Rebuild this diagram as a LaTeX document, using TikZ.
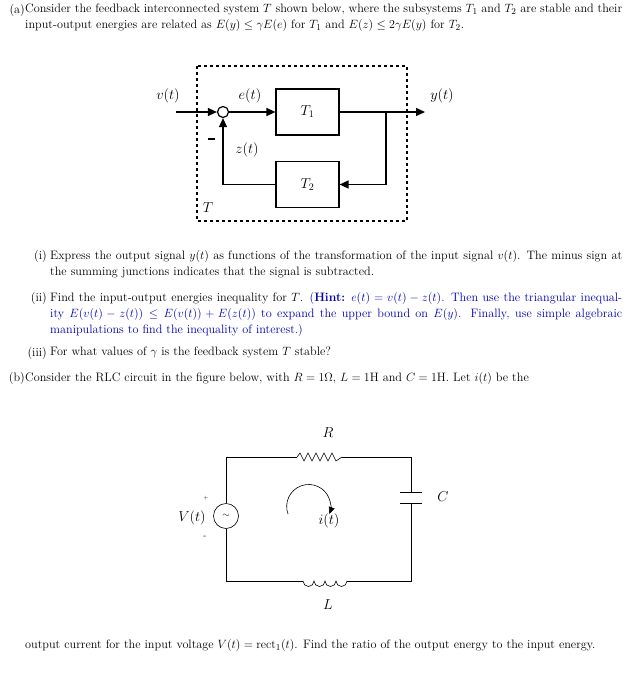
\documentclass[tikz,border=0pt]{standalone}
\usepackage{amsmath,amssymb}
\usetikzlibrary{arrows.meta}
\begin{document}
\begin{tikzpicture}[x=1pt,y=-1pt,
  txt/.style={anchor=north west,inner sep=0pt,align=justify,font=\fontsize{12.2}{16}\selectfont},
  lbl/.style={anchor=north east,inner sep=0pt,font=\fontsize{12.2}{16}\selectfont},
  blk/.style={draw,line width=1.2pt,minimum width=63pt,minimum height=46pt,inner sep=0pt,font=\Large},
  arr/.style={line width=1.4pt,-{Triangle[length=9pt,width=8pt]}},
  el/.style={line width=0.6pt},
  ml/.style={inner sep=1pt,font=\Large}]
\useasboundingbox (0,0) rectangle (641,700);
\fill[white] (0,0) rectangle (641,700);
% text
\node[lbl] (la) at (25,4) {(a)};
\node[txt,text width=597pt] (ta) at (25,4) {Consider the feedback interconnected system $T$ shown below, where the subsystems $T_1$ and $T_2$ are stable and their input-output energies are related as $E(y)\le\gamma E(e)$ for $T_1$ and $E(z)\le 2\gamma E(y)$ for $T_2$.};
\node[lbl] (li) at (47,250) {(i)};
\node[txt,text width=572pt] (ti) at (50,250) {Express the output signal $y(t)$ as functions of the transformation of the input signal $v(t)$. The minus sign at the summing junctions indicates that the signal is subtracted.};
\node[lbl] (lii) at (47,292) {(ii)};
\node[txt,text width=572pt] (tii) at (50,292) {Find the input-output energies inequality for $T$. \textcolor{blue!70!black}{(\textbf{Hint:} $e(t)=v(t)-z(t)$. Then use the triangular inequality $E(v(t)-z(t))\le E(v(t))+E(z(t))$ to expand the upper bound on $E(y)$. Finally, use simple algebraic manipulations to find the inequality of interest.)}};
\node[lbl] (liii) at (47,347) {(iii)};
\node[txt] (tiii) at (50,347) {For what values of $\gamma$ is the feedback system $T$ stable?};
\node[lbl] (lb) at (25,372) {(b)};
\node[txt,text width=597pt] (tb) at (25,372) {Consider the RLC circuit in the figure below, with $R=1\Omega$, $L=1$H and $C=1$H. Let $i(t)$ be the};
\node[txt,text width=597pt] (tc) at (25,639) {output current for the input voltage $V(t)=\mathrm{rect}_1(t)$. Find the ratio of the output energy to the input energy.};
% block diagram
\draw[dashed,line width=1.2pt] (197,66) rectangle (407,221);
\node[blk] (T1) at (307.5,112) {$T_1$};
\node[blk] (T2) at (307.5,184.5) {$T_2$};
\node[circle,draw,line width=1.2pt,minimum size=11pt,inner sep=0pt] (S) at (223,112) {};
\coordinate (in) at (176,112);
\coordinate (out) at (425,112);
\coordinate (br) at (386,112);
\draw[arr] (in) -- (S.west);
\draw[arr] (S.east) -- (T1.west);
\draw[arr] (T1.east) -- (out);
\draw[arr] (br) |- (T2.east);
\draw[arr] (T2.west) -| (S.south);
\node[ml] (v) at (168,96) {$v(t)$};
\node[ml] (e) at (250,96) {$e(t)$};
\node[ml] (y) at (442,96) {$y(t)$};
\node[ml] (z) at (247,150) {$z(t)$};
\node[ml] (Tl) at (208,208) {$T$};
\node[inner sep=0pt] (m) at (211,139) {\rule{7pt}{2.2pt}};
% circuit
\node[circle,draw,el,minimum size=25pt,inner sep=0pt] (src) at (226,516) {\small$\sim$};
\coordinate (r1) at (297,457); \coordinate (r2) at (342,457);
\coordinate (l1) at (303,581); \coordinate (l2) at (347,581);
\coordinate (c1) at (411,492); \coordinate (c2) at (411,503);
\draw[el] (src.north) |- (r1);
\draw[el] (r1) -- ++(3,-4) -- ++(4,8) -- ++(4,-8) -- ++(4,8) -- ++(4,-8) -- ++(4,8) -- ++(4,-8) -- ++(4,8) -- ++(4,-8) -- ++(4,8) -- (r2);
\draw[el] (r2) -| (c1);
\draw[el] (400,492) -- (422,492);
\draw[el] (400,503) -- (422,503);
\draw[el] (c2) |- (l2);
\draw[el] (src.south) |- (l1);
\draw[el] (l1) arc[start angle=180,end angle=360,radius=5.5pt] arc[start angle=180,end angle=360,radius=5.5pt] arc[start angle=180,end angle=360,radius=5.5pt] arc[start angle=180,end angle=360,radius=5.5pt] -- (l2);
\node[font=\Large] (R) at (328,433) {$R$};
\node[font=\Large] (C) at (443,497) {$C$};
\node[font=\Large] (L) at (328,605) {$L$};
\node[font=\Large] (V) at (192,518) {$V(t)$};
\node[font=\tiny] (p) at (206,498) {$+$};
\node[font=\small] (mi) at (205,537) {-};
\node[font=\Large] (it) at (329,521) {$i(t)$};
\draw[el,-{Triangle[length=7pt,width=6pt]}] (288,514) arc[start angle=200,end angle=-20,radius=22pt];
\end{tikzpicture}
\end{document}
